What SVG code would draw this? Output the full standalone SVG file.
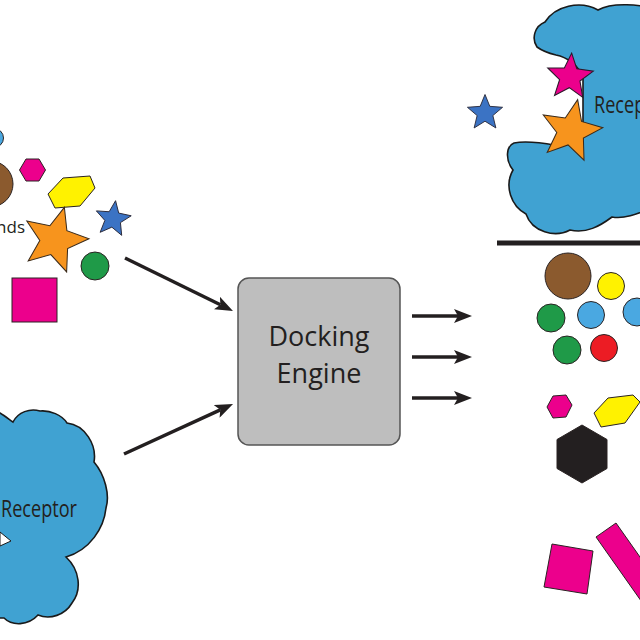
<svg xmlns="http://www.w3.org/2000/svg" xmlns:xlink="http://www.w3.org/1999/xlink" width="640" height="640" viewBox="0 0 640 640">
<style>
.sh{stroke:#2a2323;stroke-width:1}
.cloud{fill:#40a2d2;stroke:#1a1a1a;stroke-width:1.6}
.pink{fill:#ec008c}.orange{fill:#f7941d}.yellow{fill:#fff200}.green{fill:#1f9a48}
.blue{fill:#3b73c4}.brown{fill:#8b5a2e}.lblue{fill:#4aa8e1}.red{fill:#ec1c24}.black{fill:#231f20}
.lbl{font-family:"Open Sans","Liberation Sans",sans-serif;fill:#231f20}
.arr{stroke:#231f20;stroke-width:3.5;fill:none;marker-end:url(#head)}
</style>
<defs>
<path id="star" d="M0,-10 L2.6,-3.6 L9.51,-3.09 L4.25,1.38 L5.88,8.09 L0,4.45 L-5.88,8.09 L-4.25,1.38 L-9.51,-3.09 L-2.6,-3.6 Z"/>
<marker id="head" markerUnits="userSpaceOnUse" markerWidth="20" markerHeight="14" refX="4" refY="7" orient="auto">
<path d="M0,0 L18,7 L0,14 L4,7 Z" fill="#231f20"/>
</marker>
</defs>
<rect width="640" height="640" fill="#ffffff"/>

<g id="ligands">
<circle class="sh lblue" cx="-6" cy="138" r="9.5"/>
<circle class="sh brown" cx="-10" cy="184" r="23"/>
<polygon class="sh pink" points="19.5,170 26,159 39,159 45.5,170 39,181 26,181"/>
<polygon class="sh yellow" points="48,194 63,178 90,176 95,188 80,206 55,208"/>
<use xlink:href="#star" class="orange" transform="translate(55,240) rotate(16) scale(3.4)" stroke="#3a2a1a" stroke-width="0.3"/>
<use xlink:href="#star" class="blue" transform="translate(113,219) rotate(8) scale(1.85)" stroke="#2a2a3a" stroke-width="0.5"/>
<circle class="sh green" cx="95" cy="266" r="14"/>
<rect class="sh pink" x="12" y="278" width="45" height="44"/>
<text class="lbl" x="25" y="233" font-size="17" text-anchor="end">Ligands</text>
</g>

<g id="receptor-left">
<path class="cloud" d="M-10,413 L0,413 C5,416 10,420 13,422 C18,412 30,408 40,411 C50,410 62,415 67,423 C85,425 97,445 94,462 C105,475 110,495 106,508 C104,528 90,550 66,557 C80,570 82,590 72,603 C65,615 50,620 38,615 C28,626 12,626 4,618 L-10,618 Z"/>
<polygon points="0,532 11,541 0,546" fill="#ffffff" stroke="#1a1a1a" stroke-width="1"/>
<text class="lbl" x="1" y="517" font-size="23" textLength="76" lengthAdjust="spacingAndGlyphs">Receptor</text>
</g>

<g id="docking-engine">
<rect x="238" y="278" width="162" height="167" rx="11" fill="#bebebe" stroke="#555555" stroke-width="1.5"/>
<text class="lbl" x="319" y="346" font-size="27" text-anchor="middle">Docking</text>
<text class="lbl" x="319" y="383" font-size="27" text-anchor="middle">Engine</text>
</g>

<g id="connectors">
<line class="arr" x1="125" y1="258" x2="220.4" y2="304.8"/>
<line class="arr" x1="124" y1="454" x2="220.3" y2="409.8"/>
<line class="arr" x1="412" y1="316" x2="458" y2="316"/>
<line class="arr" x1="412" y1="357" x2="458" y2="357"/>
<line class="arr" x1="412" y1="398" x2="458" y2="398"/>
</g>

<g id="receptor-complex">
<path class="cloud" d="M545,22 C555,6 580,0 598,10 C612,2 640,4 660,10 L660,205 C645,210 628,220 612,217 C600,226 586,234 570,230 C555,238 532,232 526,214 C511,206 504,186 513,170 C505,160 506,146 514,143 C530,140 548,144 560,146 L583,138 L583,78 C578,64 566,57 556,55 C548,53 541,50 537,47 C531,38 535,26 545,22 Z"/>
<use xlink:href="#star" class="pink" transform="translate(570,77) rotate(4) scale(2.4)" stroke="#2a1a2a" stroke-width="0.45"/>
<use xlink:href="#star" class="orange" transform="translate(571,131) rotate(12) scale(3.2)" stroke="#3a2a1a" stroke-width="0.32"/>
<use xlink:href="#star" class="blue" transform="translate(485,113) scale(1.85)" stroke="#2a2a3a" stroke-width="0.5"/>
<text class="lbl" x="594" y="113" font-size="23" textLength="76" lengthAdjust="spacingAndGlyphs">Receptor</text>
</g>

<g id="divider">
<line x1="497" y1="243" x2="640" y2="243" stroke="#231f20" stroke-width="5"/>
</g>

<g id="results">
<circle class="sh brown" cx="568" cy="276" r="23"/>
<circle class="sh yellow" cx="611" cy="286" r="13.5"/>
<circle class="sh green" cx="551" cy="318" r="14"/>
<circle class="sh lblue" cx="591" cy="315" r="13.5"/>
<circle class="sh lblue" cx="637" cy="312" r="14"/>
<circle class="sh green" cx="567" cy="350" r="14"/>
<circle class="sh red" cx="604" cy="348" r="13.5"/>
<polygon class="sh pink" points="547,407 553,396 566,395 572,405 566,417 553,418"/>
<polygon class="sh yellow" points="594,413 608,398 633,395 640,402 625,423 601,427"/>
<polygon class="sh black" points="582,425 607,439.5 607,468.5 582,483 557,468.5 557,439.5"/>
<polygon class="sh pink" points="552,544 593,551 587,594 544,587"/>
<polygon class="sh pink" points="596,537 616,523 671,601 651,615"/>
</g>
</svg>
